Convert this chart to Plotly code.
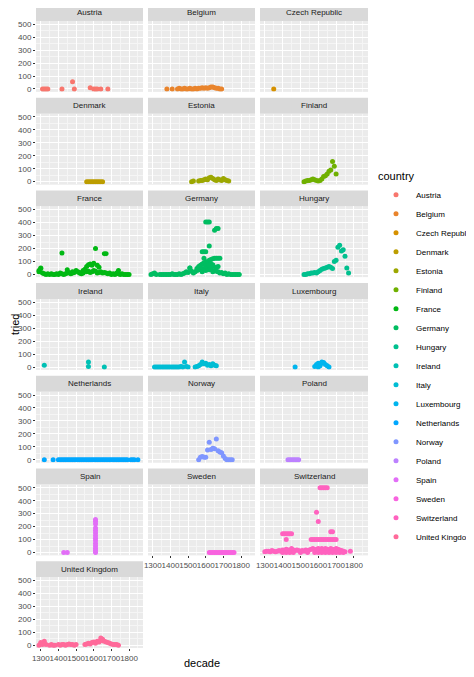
import plotly.graph_objects as go

countries = ["Austria", "Belgium", "Czech Republic", "Denmark", "Estonia", "Finland",
             "France", "Germany", "Hungary", "Ireland", "Italy", "Luxembourg",
             "Netherlands", "Norway", "Poland", "Spain", "Sweden", "Switzerland",
             "United Kingdom"]

colors = ["#F8766D", "#E9842C", "#D69100", "#BC9D00", "#9CA700", "#6FB000",
          "#00B813", "#00BD61", "#00C08E", "#00C0B4", "#00BDD4", "#00B5EE",
          "#00A7FF", "#7F96FF", "#BC81FF", "#E26EF7", "#F863DF", "#FF62BF", "#FF6A9A"]

# decade / tried
austria_x = [1310, 1320, 1330, 1340, 1420, 1480, 1490, 1580, 1600, 1610, 1620, 1640, 1680]
austria_y = [0, 0, 0, 0, 0, 55, 0, 10, 0, 0, 0, 0, 0]
belgium_x = [1380, 1410, 1440, 1450, 1460, 1470, 1480, 1490, 1500, 1510, 1520, 1530, 1540, 1550,
             1560, 1570, 1580, 1590, 1600, 1610, 1620, 1630, 1640, 1650, 1660, 1670, 1680, 1690]
belgium_y = [0, 0, 0, 5, 0, 0, 5, 0, 0, 5, 0, 0, 5, 0, 5, 5, 10, 5, 10, 5, 10, 15, 15, 10, 5, 5, 0, 0]
czech_x = [1350]
czech_y = [0]
denmark_x = [1560, 1570, 1580, 1590, 1600, 1610, 1620, 1630, 1640, 1650]
denmark_y = [0, 0, 0, 0, 0, 0, 0, 0, 0, 0]
estonia_x = [1520, 1530, 1560, 1570, 1580, 1590, 1600, 1610, 1620, 1630, 1640, 1650, 1660, 1670,
             1680, 1690, 1700, 1710, 1720, 1730]
estonia_y = [0, 5, 5, 10, 10, 15, 20, 15, 30, 35, 25, 15, 10, 20, 15, 10, 25, 15, 10, 5]
finland_x = [1520, 1530, 1540, 1550, 1560, 1570, 1580, 1590, 1600, 1610, 1620, 1630, 1640, 1650,
             1660, 1670, 1680, 1690, 1700]
finland_y = [0, 5, 10, 10, 15, 20, 15, 10, 5, 10, 20, 40, 45, 60, 80, 90, 155, 120, 60]
france_x = [1290, 1300, 1310, 1320, 1330, 1340, 1350, 1360, 1370, 1380, 1390, 1400, 1410, 1420,
            1430, 1440, 1450, 1460, 1470, 1480, 1490, 1500, 1510, 1520, 1530, 1540, 1550, 1560,
            1570, 1580, 1590, 1600, 1610, 1620, 1630, 1640, 1650, 1660, 1670, 1680, 1690, 1700,
            1710, 1720, 1730, 1740, 1750, 1760, 1770, 1780, 1790, 1800,
            1290, 1300, 1420, 1560, 1570, 1580, 1590, 1600, 1610, 1620, 1630, 1660, 1670, 1740,
            1450, 1480, 1520, 1540]
france_y = [30, 45, 10, 5, 0, 5, 0, 5, 0, 0, 5, 0, 10, 5, 0, 5, 10, 15, 5, 10, 15, 30, 20, 15,
            5, 10, 40, 20, 25, 15, 20, 30, 25, 10, 15, 20, 10, 15, 10, 5, 10, 0, 5, 0, 10, 5,
            0, 5, 0, 0, 0, 0,
            20, 50, 165, 60, 75, 80, 70, 85, 200, 70, 55, 160, 160, 30,
            35, 20, 10, 30]
germany_x = [1290, 1300, 1310, 1320, 1340, 1350, 1360, 1370, 1380, 1390, 1400, 1410, 1420, 1430,
             1440, 1450, 1460, 1470, 1480, 1490, 1500, 1510, 1520, 1530, 1540, 1550, 1560, 1570,
             1580, 1590, 1600, 1610, 1620, 1630, 1640, 1650, 1660, 1670, 1680, 1690, 1700, 1710,
             1720, 1730, 1740, 1750, 1760, 1770, 1780, 1790,
             1600, 1610, 1620, 1650, 1660, 1670, 1620, 1580, 1590, 1600, 1590, 1610, 1620, 1630,
             1640, 1650, 1660, 1670, 1680, 1560, 1570, 1580, 1590, 1600, 1610, 1620, 1630, 1640,
             1510, 1670, 1550, 1570, 1600, 1620, 1640, 1660]
germany_y = [0, 5, 10, 0, 0, 0, 0, 0, 0, 0, 0, 5, 0, 0, 0, 5, 0, 5, 10, 20, 15, 50, 25, 10,
             20, 30, 35, 40, 20, 45, 30, 50, 35, 40, 20, 30, 25, 20, 10, 15, 5, 10, 0, 5, 0, 0,
             0, 0, 0, 0,
             405, 405, 405, 340, 355, 355, 220, 175, 175, 175, 125, 100, 110, 115, 120, 125, 125,
             125, 125, 60, 70, 80, 90, 95, 90, 85, 80, 75, 50, 60, 45, 55, 65, 70, 60, 55]
hungary_x = [1520, 1530, 1540, 1550, 1560, 1570, 1580, 1590, 1600, 1610, 1620, 1630, 1640, 1650,
             1660, 1670, 1680, 1690, 1700, 1710, 1720, 1730, 1740, 1750, 1760, 1770]
hungary_y = [0, 0, 5, 5, 10, 10, 15, 10, 20, 30, 40, 45, 50, 55, 60, 55, 45, 100, 110, 210,
             225, 180, 190, 140, 50, 10]
ireland_x = [1320, 1570, 1570, 1660]
ireland_y = [15, 40, 5, 0]
italy_x = [1310, 1320, 1330, 1340, 1350, 1360, 1370, 1380, 1390, 1400, 1410, 1420, 1430, 1440,
           1450, 1460, 1470, 1480, 1490, 1500, 1540, 1550, 1560, 1570, 1580, 1590, 1600, 1610,
           1620, 1630, 1640, 1650, 1660]
italy_y = [0, 0, 0, 0, 0, 0, 0, 0, 0, 0, 0, 0, 0, 0, 0, 5, 0, 40, 5, 0, 0, 5, 10, 20, 40, 25,
           30, 15, 20, 10, 25, 15, 10]
luxembourg_x = [1470, 1580, 1590, 1600, 1610, 1620, 1630, 1640, 1650, 1660, 1600, 1610, 1620]
luxembourg_y = [0, 5, 20, 30, 25, 30, 35, 20, 10, 0, 0, 10, 40]
netherlands_x = [1320, 1370, 1400, 1410, 1420, 1430, 1440, 1450, 1460, 1470, 1480, 1490, 1500,
                 1510, 1520, 1530, 1540, 1550, 1560, 1570, 1580, 1590, 1600, 1610, 1620, 1630,
                 1640, 1650, 1660, 1670, 1680, 1690, 1700, 1710, 1720, 1730, 1740, 1750, 1760,
                 1770, 1780, 1790, 1810, 1820, 1830, 1850]
netherlands_y = [0] * 46
norway_x = [1560, 1570, 1580, 1590, 1600, 1610, 1620, 1630, 1640, 1650, 1660, 1670, 1680, 1690,
            1700, 1710, 1720, 1730, 1740, 1750]
norway_y = [0, 20, 25, 20, 20, 75, 135, 80, 90, 85, 160, 70, 60, 55, 30, 10, 0, 0, 0, 0]
poland_x = [1430, 1440, 1450, 1460, 1470, 1480, 1490]
poland_y = [0, 0, 0, 0, 0, 0, 0]
spain_x = [1430, 1450, 1610, 1610, 1610, 1610, 1610, 1610, 1610, 1610, 1610, 1610, 1610, 1610,
           1610, 1610]
spain_y = [0, 0, 0, 15, 30, 50, 70, 90, 110, 130, 150, 170, 190, 220, 240, 255]
sweden_x = [1620, 1630, 1640, 1650, 1660, 1670, 1680, 1690, 1700, 1710, 1720, 1730, 1740, 1750,
            1760]
sweden_y = [0] * 15
switzerland_x = [1300, 1310, 1320, 1330, 1340, 1350, 1360, 1370, 1380, 1390, 1400, 1410, 1420,
                 1430, 1440, 1450, 1460, 1470, 1480, 1490, 1500, 1510, 1520, 1530, 1540, 1550,
                 1560, 1570, 1580, 1590, 1600, 1610, 1620, 1630, 1640, 1650, 1660, 1670, 1680,
                 1690, 1700, 1710, 1720, 1730, 1740, 1750, 1780,
                 1400, 1410, 1420, 1430, 1440, 1450, 1420, 1590, 1600, 1610, 1620, 1630, 1640,
                 1650, 1560, 1570, 1580, 1590, 1600, 1610, 1620, 1630, 1640, 1650, 1660, 1670,
                 1680, 1690, 1700, 1670, 1680,
                 1400, 1420, 1440, 1460, 1500, 1540, 1580, 1600, 1620, 1640, 1660, 1680, 1700,
                 1720, 1740]
switzerland_y = [5, 10, 10, 5, 15, 10, 5, 10, 15, 10, 20, 15, 25, 20, 15, 30, 20, 15, 20, 15, 10,
                 15, 10, 20, 15, 20, 25, 30, 20, 25, 30, 25, 30, 20, 30, 25, 20, 30, 25, 20, 30,
                 25, 20, 15, 10, 5, 10,
                 145, 145, 145, 145, 145, 145, 100, 310, 240, 500, 500, 500, 500, 500, 100, 100,
                 100, 100, 100, 100, 100, 100, 100, 100, 100, 100, 100, 100, 100, 160, 160,
                 0, 0, 0, 0, 0, 0, 0, 0, 0, 0, 0, 0, 0, 0, 0]
uk_x = [1290, 1300, 1310, 1320, 1330, 1350, 1360, 1370, 1380, 1400, 1410, 1420, 1430, 1440, 1450,
        1460, 1470, 1480, 1490, 1500, 1550, 1560, 1570, 1580, 1590, 1600, 1610, 1620, 1630, 1640,
        1650, 1660, 1670, 1680, 1690, 1700, 1710, 1720, 1730, 1740, 1300, 1310, 1640, 1650]
uk_y = [0, 10, 5, 30, 5, 0, 5, 0, 0, 5, 0, 5, 5, 0, 5, 10, 5, 5, 0, 5, 5, 10, 15, 10, 20, 25,
        15, 30, 25, 40, 35, 30, 25, 20, 15, 10, 5, 5, 5, 0, 20, 15, 55, 45]

data_x = [austria_x, belgium_x, czech_x, denmark_x, estonia_x, finland_x, france_x, germany_x,
          hungary_x, ireland_x, italy_x, luxembourg_x, netherlands_x, norway_x, poland_x,
          spain_x, sweden_x, switzerland_x, uk_x]
data_y = [austria_y, belgium_y, czech_y, denmark_y, estonia_y, finland_y, france_y, germany_y,
          hungary_y, ireland_y, italy_y, luxembourg_y, netherlands_y, norway_y, poland_y,
          spain_y, sweden_y, switzerland_y, uk_y]

# page body adds an 8px offset, so work in screen pixels minus 8
OFF = 8
W, H = 474 - OFF, 677 - OFF
col_px = [(36 - OFF, 143 - OFF), (148 - OFF, 255 - OFF), (260 - OFF, 368 - OFF)]
row_top0, row_pitch, strip_h, plot_h = 5 - OFF, 92.7, 16, 70.7

fig = go.Figure()
layout = {}
shapes, annotations = [], []
for i, c in enumerate(countries):
    r, k = divmod(i, 3)
    n = i + 1
    x0, x1 = col_px[k]
    st = row_top0 + r * row_pitch
    p0, p1 = st + strip_h, st + strip_h + plot_h
    bottom = (i + 3 >= len(countries))
    fig.add_trace(go.Scatter(x=data_x[i], y=data_y[i], mode="markers", name=c,
                             marker=dict(color=colors[i], size=5),
                             xaxis=f"x{n}", yaxis=f"y{n}"))
    layout[f"xaxis{n}"] = dict(domain=[x0 / W, x1 / W], anchor=f"y{n}", range=[1273, 1879],
                               tickvals=[1300, 1400, 1500, 1600, 1700, 1800],
                               showticklabels=bottom, ticks="outside" if bottom else "",
                               ticklen=2, tickcolor="#333333", tickangle=0,
                               gridcolor="white", gridwidth=1, zeroline=False,
                               minor=dict(dtick=50, tick0=1250, showgrid=True,
                                          gridcolor="#F5F5F5", gridwidth=0.5),
                               tickfont=dict(size=8, color="#4D4D4D"))
    layout[f"yaxis{n}"] = dict(domain=[1 - p1 / H, 1 - p0 / H], anchor=f"x{n}", range=[-21, 525],
                               tickvals=[0, 100, 200, 300, 400, 500],
                               showticklabels=(k == 0), ticks="outside" if k == 0 else "",
                               ticklen=2, tickcolor="#333333",
                               gridcolor="white", gridwidth=1, zeroline=False,
                               minor=dict(dtick=50, tick0=-50, showgrid=True,
                                          gridcolor="#F5F5F5", gridwidth=0.5),
                               tickfont=dict(size=8, color="#4D4D4D"))
    shapes.append(dict(type="rect", xref="paper", yref="paper", x0=x0 / W, x1=x1 / W,
                       y0=1 - (st + strip_h) / H, y1=1 - st / H, fillcolor="#D9D9D9",
                       line=dict(width=0), layer="below"))
    shapes.append(dict(type="rect", xref="paper", yref="paper", x0=x0 / W, x1=x1 / W,
                       y0=1 - p1 / H, y1=1 - p0 / H, fillcolor="#EBEBEB",
                       line=dict(width=0), layer="below"))
    annotations.append(dict(text=c, xref="paper", yref="paper", x=(x0 + x1) / 2 / W,
                            y=1 - (st + strip_h / 2) / H, showarrow=False,
                            xanchor="center", yanchor="middle",
                            font=dict(size=8, color="#1A1A1A")))

annotations.append(dict(text="decade", xref="paper", yref="paper", x=(202 - OFF) / W,
                        y=1 - (663 - OFF) / H, xanchor="center", yanchor="middle",
                        showarrow=False, font=dict(size=11, color="black")))
annotations.append(dict(text="tried", xref="paper", yref="paper", x=(15 - OFF) / W,
                        y=1 - (325 - OFF) / H, xanchor="center", yanchor="middle",
                        showarrow=False, textangle=-90, font=dict(size=11, color="black")))

fig.update_layout(**layout)
fig.update_layout(
    width=W, height=H, margin=dict(l=0, r=0, t=0, b=0, autoexpand=False),
    plot_bgcolor="#EBEBEB", paper_bgcolor="white",
    font=dict(family="Liberation Sans, Arial", color="#4D4D4D"),
    shapes=shapes, annotations=annotations,
    legend=dict(title=dict(text="country", font=dict(size=11, color="black")),
                x=(376 - OFF) / W, y=1 - (166 - OFF) / H, xanchor="left", yanchor="top",
                font=dict(size=8, color="black"), tracegroupgap=0,
                bgcolor="rgba(0,0,0,0)"),
)

fig.write_html("out.html")
